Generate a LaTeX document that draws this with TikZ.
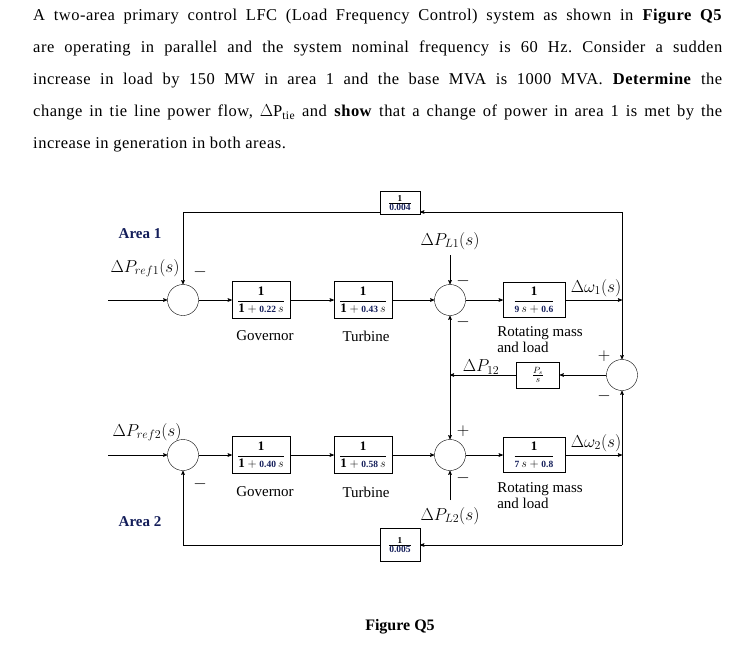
\documentclass[tikz,border=0pt]{standalone}
\usepackage{fontspec}
\setmainfont{Liberation Serif}
\newfontfamily\qfont{Liberation Serif}[LetterSpace=3]
\usepackage{amsmath}
\usetikzlibrary{arrows}
\definecolor{numblue}{RGB}{20,30,90}
\tikzstyle{block} = [rectangle, draw=black, inner sep=1pt, text centered, font=\fontsize{13}{14}\selectfont]
\tikzstyle{sumnode} = [circle, draw=black, minimum size=31pt, inner sep=0pt]
\tikzstyle{arrow} = [->,>=stealth', semithick]
\tikzstyle{big} = [font=\fontsize{17}{19}\selectfont]
\tikzstyle{sgn} = [big]
\tikzstyle{area} = [font=\fontsize{15}{16}\selectfont\bfseries\color{numblue}]
\newcommand{\nb}[1]{{\fontsize{9.5}{10}\selectfont\bfseries\color{numblue}#1}}
\begin{document}
\begin{tikzpicture}[x=1pt,y=-1pt, font=\fontsize{15}{15}\selectfont]
            \useasboundingbox (0,0) rectangle (742,669);
            % Question text
            \node[anchor=north west, text width=689pt, align=justify, inner sep=0pt,
            font=\qfont\frenchspacing\fontsize{16.5}{32}\selectfont] (question) at (33,9)
            {A two-area primary control LFC (Load Frequency Control) system as shown in \textbf{Figure Q5}\linebreak are operating in parallel and the system nominal frequency is 60 Hz. Consider a sudden\linebreak increase in load by 150 MW in area 1 and the base MVA is 1000 MVA. \textbf{Determine} the\linebreak change in tie line power flow, $\Delta$P\textsubscript{tie} and \textbf{show} that a change of power in area 1 is met by the\linebreak increase in generation in both areas.};
            % Area 1
            \node[sumnode] (sum1) at (183,300) {};
            \node[block, minimum width=58pt, minimum height=37pt] (gov1) at (261,300) {$\dfrac{\mathbf{1}}{\mathbf{1}+\text{\nb{0.22}}\,s}$};
            \node[block, minimum width=58pt, minimum height=37pt] (tur1) at (363,300) {$\dfrac{\mathbf{1}}{\mathbf{1}+\text{\nb{0.43}}\,s}$};
            \node[sumnode] (sum2) at (450,300) {};
            \node[block, minimum width=62pt, minimum height=35pt] (rot1) at (534,300) {$\dfrac{\mathbf{1}}{\text{\nb{9}}\,s+\text{\nb{0.6}}}$};
            \node[block, minimum width=40pt, minimum height=23pt] (r1) at (400,203) {$\frac{\mathbf{1}}{\text{\nb{0.004}}}$};
            % Tie line
            \node[sumnode] (sum3) at (622,375) {};
            \node[block, minimum width=43pt, minimum height=26pt] (tie) at (538,375) {$\frac{P_s}{s}$};
            \coordinate (j12) at (450,375);
            % Area 2
            \node[sumnode] (sum5) at (183,455) {};
            \node[block, minimum width=58pt, minimum height=37pt] (gov2) at (261,455) {$\dfrac{\mathbf{1}}{\mathbf{1}+\text{\nb{0.40}}\,s}$};
            \node[block, minimum width=58pt, minimum height=37pt] (tur2) at (363,455) {$\dfrac{\mathbf{1}}{\mathbf{1}+\text{\nb{0.58}}\,s}$};
            \node[sumnode] (sum4) at (450,455) {};
            \node[block, minimum width=62pt, minimum height=35pt] (rot2) at (534,455) {$\dfrac{\mathbf{1}}{\text{\nb{7}}\,s+\text{\nb{0.8}}}$};
            \node[block, minimum width=40pt, minimum height=33pt] (r2) at (400,545) {$\frac{\mathbf{1}}{\text{\nb{0.005}}}$};
            % Labels
            \node[area] (area1) at (140,234) {Area 1};
            \node[area] (area2) at (140,522) {Area 2};
            \node[big] (ref1) at (145,268) {$\Delta P_{ref1}(s)$};
            \node[big] (ref2) at (147,432) {$\Delta P_{ref2}(s)$};
            \node[big] (pl1) at (450,241) {$\Delta P_{L1}(s)$};
            \node[big] (pl2) at (450,516) {$\Delta P_{L2}(s)$};
            \node[big] (p12) at (481,367) {$\Delta P_{12}$};
            \node[big] (w1) at (596,288) {$\Delta\omega_1(s)$};
            \node[big] (w2) at (596,443) {$\Delta\omega_2(s)$};
            \node (govl1) at (265,336) {Governor};
            \node (turl1) at (366,336) {Turbine};
            \node[align=left, inner sep=0pt, font=\fontsize{15}{16}\selectfont] (rotl1) at (540,340) {Rotating mass\\and load};
            \node (govl2) at (265,492) {Governor};
            \node (turl2) at (366,492) {Turbine};
            \node[align=left, inner sep=0pt, font=\fontsize{15}{16}\selectfont] (rotl2) at (540,496) {Rotating mass\\and load};
            \node[font=\bfseries\fontsize{16}{17}\selectfont] (fig) at (400,627) {Figure Q5};
            % Signs
            \node[sgn] at (200,272) {$-$};
            \node[sgn] at (200,484) {$-$};
            \node[sgn] at (463,281) {$-$};
            \node[sgn] at (463,322) {$-$};
            \node[sgn] at (463,431) {$+$};
            \node[sgn] at (463,478) {$-$};
            \node[sgn] at (604,356) {$+$};
            \node[sgn] at (604,396) {$-$};
            % Coordinates
            \coordinate (in1) at (108,300);
            \coordinate (in2) at (108,455);
            \coordinate (o1) at (622,300);
            \coordinate (o2) at (622,455);
            \coordinate (pl1s) at (450,255);
            \coordinate (pl2s) at (450,500);
            % Arrows
            \draw[arrow] (in1) -- (sum1);
            \draw[arrow] (sum1) -- (gov1);
            \draw[arrow] (gov1) -- (tur1);
            \draw[arrow] (tur1) -- (sum2);
            \draw[arrow] (sum2) -- (rot1);
            \draw[arrow] (rot1) -- (o1);
            \draw[arrow] (622,212) -- (sum3);
            \draw[arrow] (622,212) -- (r1.east |- 0,212);
            \draw[arrow] (r1.west |- 0,212) -| (sum1);
            \draw[arrow] (pl1s) -- (sum2);
            \draw[arrow] (sum3) -- (tie);
            \draw[arrow] (tie) -- (j12);
            \draw[arrow] (j12) -- (sum2);
            \draw[arrow] (j12) -- (sum4);
            \draw[arrow] (in2) -- (sum5);
            \draw[arrow] (sum5) -- (gov2);
            \draw[arrow] (gov2) -- (tur2);
            \draw[arrow] (tur2) -- (sum4);
            \draw[arrow] (sum4) -- (rot2);
            \draw[arrow] (rot2) -- (o2);
            \draw[arrow] (622,545) -- (sum3);
            \draw[arrow] (622,545) -- (r2);
            \draw[arrow] (r2) -| (sum5);
            \draw[arrow] (pl2s) -- (sum4);
        \end{tikzpicture}
\end{document}
